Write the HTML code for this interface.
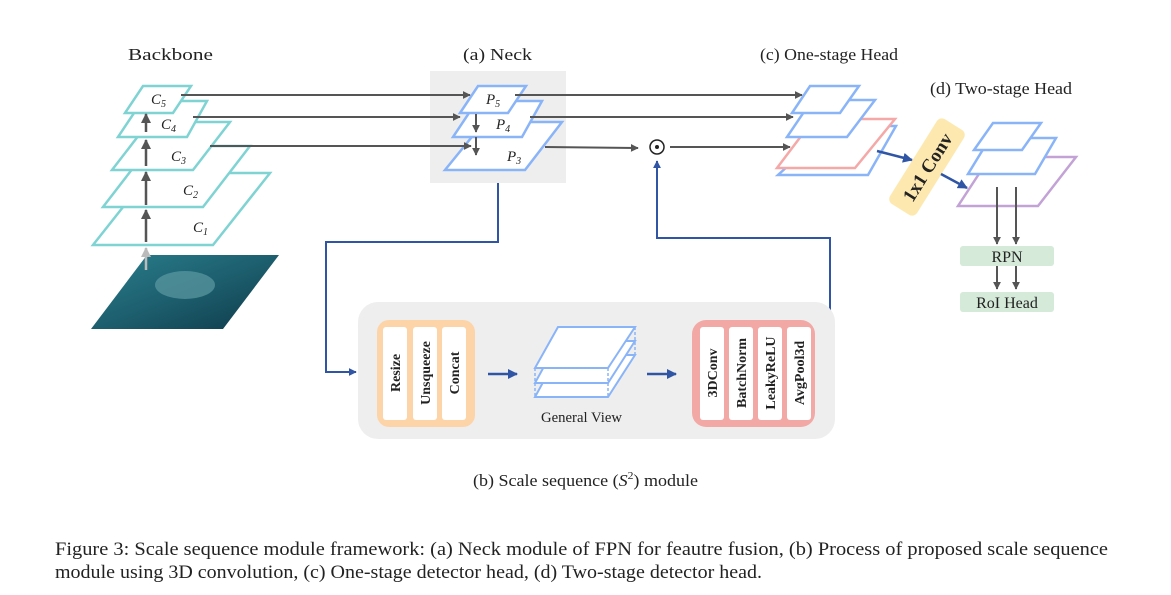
<!DOCTYPE html>
<html><head><meta charset="utf-8"><style>
body{margin:0;background:#fff}
svg{display:block}
text{font-family:"Liberation Serif",serif;fill:#222}
</style></head><body>
<svg width="1171" height="595" viewBox="0 0 1171 595" xmlns="http://www.w3.org/2000/svg">
<defs>
<marker id="ag" viewBox="0 0 10 10" refX="9" refY="5" markerWidth="4" markerHeight="4" orient="auto"><path d="M0,0L10,5L0,10z" fill="#555"/></marker>
<marker id="al" viewBox="0 0 10 10" refX="9" refY="5" markerWidth="4" markerHeight="4" orient="auto"><path d="M0,0L10,5L0,10z" fill="#bbb"/></marker>
<marker id="ab" viewBox="0 0 10 10" refX="9" refY="5" markerWidth="4" markerHeight="4" orient="auto"><path d="M0,0L10,5L0,10z" fill="#2f55a4"/></marker>
<linearGradient id="sea" x1="0" y1="0" x2="1" y2="1"><stop offset="0" stop-color="#2a7f8e"/><stop offset="0.5" stop-color="#1d5f6e"/><stop offset="1" stop-color="#0e3a4a"/></linearGradient>
</defs>

<text x="128" y="60" font-size="17" textLength="85" lengthAdjust="spacingAndGlyphs">Backbone</text>
<text x="463" y="60" font-size="17" textLength="69" lengthAdjust="spacingAndGlyphs">(a) Neck</text>
<text x="760" y="60" font-size="17" textLength="138" lengthAdjust="spacingAndGlyphs">(c) One-stage Head</text>
<text x="930" y="94" font-size="17" textLength="142" lengthAdjust="spacingAndGlyphs">(d) Two-stage Head</text>

<rect x="430" y="71" width="136" height="112" fill="#eeeeee"/>

<polygon points="147,255 279,255 223,329 91,329" fill="url(#sea)"/>
<ellipse cx="185" cy="285" rx="30" ry="14" fill="#5c9aa2" opacity="0.7"/>

<g fill="#fff" stroke="#7fd3d3" stroke-width="2.5">
<polygon points="150,173 270,173 213,245 93,245"/>
<polygon points="150,146 250,146 203,207 103,207"/>
<polygon points="149,122 230,122 193,170 112,170"/>
<polygon points="142,101 207,101 187,137 118,137"/>
<polygon points="143,86 191,86 173,113 125,113"/>
</g>
<g stroke="#555" stroke-width="2.5" marker-end="url(#ag)">
<line x1="146" y1="242" x2="146" y2="210"/>
<line x1="146" y1="205" x2="146" y2="172"/>
<line x1="146" y1="166" x2="146" y2="140"/>
<line x1="146" y1="132" x2="146" y2="114"/>
</g>
<line x1="146" y1="270" x2="146" y2="248" stroke="#bbb" stroke-width="2.5" marker-end="url(#al)"/>
<g font-size="15" font-style="italic">
<text x="151" y="104">C<tspan font-size="10" dy="3">5</tspan></text>
<text x="161" y="129">C<tspan font-size="10" dy="3">4</tspan></text>
<text x="171" y="161">C<tspan font-size="10" dy="3">3</tspan></text>
<text x="183" y="195">C<tspan font-size="10" dy="3">2</tspan></text>
<text x="193" y="232">C<tspan font-size="10" dy="3">1</tspan></text>
</g>

<g fill="#fff" stroke="#8ab4f8" stroke-width="2.5">
<polygon points="484,122 562,122 525,170 445,170"/>
<polygon points="477,101 542,101 522,137 453,137"/>
<polygon points="478,86 526,86 508,113 460,113"/>
</g>
<g font-size="15" font-style="italic">
<text x="486" y="104">P<tspan font-size="10" dy="3">5</tspan></text>
<text x="496" y="129">P<tspan font-size="10" dy="3">4</tspan></text>
<text x="507" y="161">P<tspan font-size="10" dy="3">3</tspan></text>
</g>
<g stroke="#555" stroke-width="2" marker-end="url(#ag)">
<line x1="476" y1="114" x2="476" y2="132"/>
<line x1="476" y1="137" x2="476" y2="155"/>
<line x1="181" y1="95" x2="470" y2="95"/>
<line x1="193" y1="117" x2="460" y2="117"/>
<line x1="210" y1="146" x2="471" y2="146"/>
<line x1="515" y1="95" x2="802" y2="95"/>
<line x1="530" y1="117" x2="793" y2="117"/>
<line x1="545" y1="147" x2="638" y2="148"/>
<line x1="670" y1="147" x2="790" y2="147"/>
</g>
<circle cx="657" cy="147" r="7" fill="#fff" stroke="#222" stroke-width="1.5"/>
<circle cx="657" cy="147" r="2" fill="#222"/>

<polyline points="498,183 498,242 326,242 326,372 356,372" fill="none" stroke="#2f55a4" stroke-width="2" marker-end="url(#ab)"/>
<polyline points="815,372 830,372 830,238 657,238 657,161" fill="none" stroke="#2f55a4" stroke-width="2" marker-end="url(#ab)"/>

<g fill="#fff" stroke-width="2.5">
<polygon points="832,126 896,126 868,175 778,175" stroke="#8ab4f8"/>
<polygon points="814,119 895,119 855,168 777,168" stroke="#f4a9a8"/>
<polygon points="812,100 875,100 847,137 787,137" stroke="#8ab4f8"/>
<polygon points="810,86 859,86 840,113 792,113" stroke="#8ab4f8"/>
</g>
<line x1="877" y1="151" x2="912" y2="160" stroke="#2f55a4" stroke-width="2.5" marker-end="url(#ab)"/>
<g transform="translate(927,167) rotate(-58)">
<rect x="-50" y="-16" width="100" height="32" rx="6" fill="#fde9b0"/>
<text x="0" y="7" font-size="19" font-weight="bold" text-anchor="middle">1x1 Conv</text>
</g>
<line x1="941" y1="174" x2="967" y2="188" stroke="#2f55a4" stroke-width="2.5" marker-end="url(#ab)"/>

<g fill="#fff" stroke-width="2.5">
<polygon points="990,157 1076,157 1038,206 958,206" stroke="#c3a3d6"/>
<polygon points="990,138 1056,138 1035,174 968,174" stroke="#8ab4f8"/>
<polygon points="993,123 1041,123 1022,150 974,150" stroke="#8ab4f8"/>
</g>
<g stroke="#555" stroke-width="2" marker-end="url(#ag)">
<line x1="997" y1="187" x2="997" y2="244"/>
<line x1="1016" y1="187" x2="1016" y2="244"/>
<line x1="997" y1="266" x2="997" y2="289"/>
<line x1="1016" y1="266" x2="1016" y2="289"/>
</g>
<rect x="960" y="246" width="94" height="20" rx="3" fill="#d5ead8"/>
<text x="1007" y="262" font-size="16" text-anchor="middle">RPN</text>
<rect x="960" y="292" width="94" height="20" rx="3" fill="#d5ead8"/>
<text x="1007" y="308" font-size="16" text-anchor="middle">RoI Head</text>

<rect x="358" y="302" width="477" height="137" rx="20" fill="#eeeeee"/>
<rect x="377" y="320" width="98" height="107" rx="12" fill="#fdd4a8"/>
<g fill="#fff"><rect x="383" y="327" width="24" height="93" rx="3"/><rect x="413" y="327" width="24" height="93" rx="3"/><rect x="442" y="327" width="24" height="93" rx="3"/></g>
<rect x="692" y="320" width="123" height="107" rx="14" fill="#f2a9a6"/>
<g fill="#fff"><rect x="700" y="327" width="24" height="93" rx="3"/><rect x="729" y="327" width="24" height="93" rx="3"/><rect x="758" y="327" width="24" height="93" rx="3"/><rect x="787" y="327" width="24" height="93" rx="3"/></g>
<g font-size="14" font-weight="bold" text-anchor="middle">
<text transform="translate(400,373) rotate(-90)">Resize</text>
<text transform="translate(430,373) rotate(-90)">Unsqueeze</text>
<text transform="translate(459,373) rotate(-90)">Concat</text>
<text transform="translate(717,373) rotate(-90)">3DConv</text>
<text transform="translate(746,373) rotate(-90)">BatchNorm</text>
<text transform="translate(775,373) rotate(-90)">LeakyReLU</text>
<text transform="translate(804,373) rotate(-90)">AvgPool3d</text>
</g>
<g stroke="#2f55a4" stroke-width="2.5" marker-end="url(#ab)">
<line x1="488" y1="374" x2="517" y2="374"/>
<line x1="647" y1="374" x2="676" y2="374"/>
</g>
<g fill="#fff" stroke="#8ab4f8" stroke-width="2">
<polygon points="558,355 635,355 608,397 535,397"/>
<polygon points="558,341 635,341 608,383 535,383"/>
<polygon points="558,327 635,327 608,368 535,368"/>
</g>
<g stroke="#8ab4f8" stroke-width="1.5" stroke-dasharray="3,2">
<line x1="535" y1="368" x2="535" y2="397"/><line x1="608" y1="368" x2="608" y2="397"/><line x1="635" y1="327" x2="635" y2="355"/>
</g>
<text x="541" y="422" font-size="15" textLength="81" lengthAdjust="spacingAndGlyphs">General View</text>

<text x="473" y="486" font-size="17" textLength="225" lengthAdjust="spacingAndGlyphs">(b) Scale sequence (<tspan font-style="italic">S</tspan><tspan font-size="11" dy="-7">2</tspan><tspan dy="7">) module</tspan></text>

<text x="55" y="555" font-size="19" textLength="1053" lengthAdjust="spacingAndGlyphs">Figure 3: Scale sequence module framework: (a) Neck module of FPN for feautre fusion, (b) Process of proposed scale sequence</text>
<text x="55" y="578" font-size="19" textLength="707" lengthAdjust="spacingAndGlyphs">module using 3D convolution, (c) One-stage detector head, (d) Two-stage detector head.</text>
</svg>
</body></html>
